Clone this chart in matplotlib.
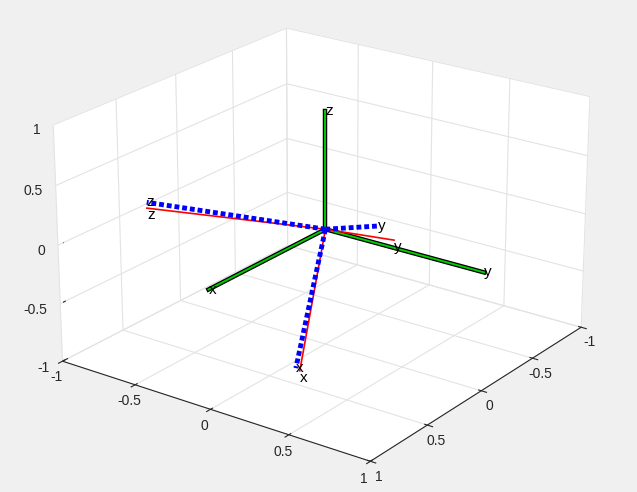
import numpy as np
import matplotlib
matplotlib.use("Agg")
import matplotlib.pyplot as plt

plt.rcParams['font.family'] = ['Liberation Sans', 'DejaVu Sans']

# frame axis directions (x, y, z tips), origin at 0
green_axes = [(0, 1, 0), (1, 0, 0), (0, 0, 1)]
red_axes = [(0.28, 0.61, -0.78), (0.75, 0.45, 0.4), (-0.85, 0.45, 0.1)]
blue_axes = [(0.27, 0.63, -0.75), (0.67, 0.48, 0.5), (-0.85, 0.45, 0.15)]
names = ['x', 'y', 'z']
ticks = [-1, -0.5, 0, 0.5, 1]
ticklabels = ['-1', '-0.5', '0', '0.5', '1']

fig = plt.figure(figsize=(6.37, 4.92), dpi=100, facecolor='#f0f0f0')
ax = fig.add_axes([0.0, 0.0, 1.0, 1.04], projection='3d')
ax.set_facecolor('#f0f0f0')
ax.computed_zorder = False

# the y axis runs toward the viewer: plot -y and label the ticks reversed
for (vx, vy, vz), n in zip(green_axes, names):
    ax.plot([0, vx], [0, -vy], [0, vz], color='black', lw=3.2)
    ax.plot([0, vx], [0, -vy], [0, vz], color='#00cc00', lw=1.4)
    ax.text(vx, -vy, vz, n, fontsize=11, va='center')
for (vx, vy, vz), n in zip(red_axes, names):
    ax.plot([0, vx], [0, -vy], [0, vz], color='red', lw=1.2)
    ax.text(vx, -vy, vz, n, fontsize=11, va='top')
for (vx, vy, vz), n in zip(blue_axes, names):
    ax.plot([0, vx], [0, -vy], [0, vz], color='blue', lw=3.5, ls=(0, (1, 0.6)))
    ax.text(vx, -vy, vz, n, fontsize=11, va='center')

ax.set_xlim(-1, 1)
ax.set_ylim(-1, 1)
ax.set_zlim(-1, 1)
for setter in (ax.set_xticks, ax.set_yticks, ax.set_zticks):
    setter(ticks)
ax.set_xticklabels(ticklabels)
ax.set_yticklabels(ticklabels[::-1])
ax.set_zticklabels([])
ax.tick_params(labelsize=10, colors='#262626', pad=-3)
for a in (ax.xaxis, ax.yaxis, ax.zaxis):
    a.set_pane_color((1, 1, 1, 1))
    a._axinfo['grid']['color'] = '#e3e3e3'
    a._axinfo['grid']['linewidth'] = 0.8
    a.line.set_color('#262626')
ax.zaxis.line.set_color((0, 0, 0, 0))
ax.zaxis._axinfo['tick']['inward_factor'] = 0
ax.zaxis._axinfo['tick']['outward_factor'] = 0

# z axis drawn on the front-left edge
ax.plot([-1, -1], [-1, -1], [-1, 1], color='#262626', lw=0.9, zorder=10)
for t, lab in zip(ticks, ticklabels):
    ax.plot([-1, -1], [-1, -0.96], [t, t], color='#262626', lw=0.8, zorder=10)
    ax.text(-1, -1.1, t, lab, fontsize=10, color='#262626', ha='right', va='center')

ax.view_init(elev=22, azim=-54)
ax.set_box_aspect((1.2, 1.2, 0.8), zoom=1.12)

fig.savefig('out.png', dpi=100, facecolor=fig.get_facecolor())
